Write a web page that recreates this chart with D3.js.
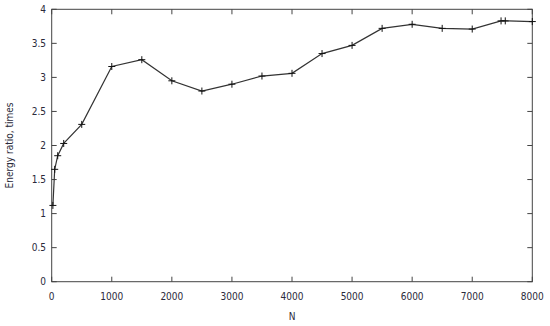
<!DOCTYPE html>
<html>
<head>
<meta charset="utf-8">
<script src="https://cdn.jsdelivr.net/npm/d3@7"></script>
<style>
html,body{margin:0;padding:0;background:#fff;}
svg{display:block;}
text{font-family:"DejaVu Sans Condensed","DejaVu Sans",sans-serif;font-size:10px;fill:#2a2a3a;}
</style>
</head>
<body>
<svg id="chart" width="550" height="326"></svg>
<script>
const nValues = [20, 50, 100, 200, 500, 1000, 1500, 2000, 2500, 3000, 3500, 4000, 4500, 5000, 5500, 6000, 6500, 7000, 7480, 7550, 8000];
const ratioValues = [1.12, 1.65, 1.85, 2.03, 2.31, 3.16, 3.26, 2.95, 2.80, 2.90, 3.02, 3.06, 3.35, 3.47, 3.72, 3.78, 3.72, 3.71, 3.83, 3.83, 3.82];
const xTicks = [0, 1000, 2000, 3000, 4000, 5000, 6000, 7000, 8000];
const yTicks = [0, 0.5, 1, 1.5, 2, 2.5, 3, 3.5, 4];
const xLabel = "N";
const yLabel = "Energy ratio, times";

const svg = d3.select("#chart");
const L = 51.7, R = 532.3, T = 9.3, B = 281.7;
const x = d3.scaleLinear().domain([0, 8000]).range([L, R]);
const y = d3.scaleLinear().domain([0, 4]).range([B, T]);
const data = nValues.map((n, i) => ({n, v: ratioValues[i]}));
const axisColor = "#444";

svg.append("rect").attr("x", L).attr("y", T).attr("width", R - L).attr("height", B - T)
  .attr("fill", "none").attr("stroke", axisColor).attr("stroke-width", 1);

const tl = 5;
const gx = svg.append("g");
xTicks.forEach(t => {
  gx.append("line").attr("x1", x(t)).attr("x2", x(t)).attr("y1", B).attr("y2", B - tl).attr("stroke", axisColor);
  gx.append("line").attr("x1", x(t)).attr("x2", x(t)).attr("y1", T).attr("y2", T + tl).attr("stroke", axisColor);
  gx.append("text").attr("x", x(t)).attr("y", 299.5).attr("text-anchor", "middle").text(d3.format("d")(t));
});
const gy = svg.append("g");
yTicks.forEach(t => {
  gy.append("line").attr("x1", L).attr("x2", L + tl).attr("y1", y(t)).attr("y2", y(t)).attr("stroke", axisColor);
  gy.append("line").attr("x1", R).attr("x2", R - tl).attr("y1", y(t)).attr("y2", y(t)).attr("stroke", axisColor);
  gy.append("text").attr("x", 46).attr("y", y(t) + 3.6).attr("text-anchor", "end").text(String(t));
});

svg.append("text").attr("x", (L + R) / 2).attr("y", 320).attr("text-anchor", "middle").text(xLabel);
svg.append("text").attr("transform", `translate(13,${(T + B) / 2}) rotate(-90)`)
  .attr("text-anchor", "middle").text(yLabel);

svg.append("path").datum(data)
  .attr("d", d3.line().x(d => x(d.n)).y(d => y(d.v)))
  .attr("fill", "none").attr("stroke", "#333").attr("stroke-width", 1.2);

const ms = 3.5;
const gm = svg.append("g").attr("stroke", "#111").attr("stroke-width", 1);
data.forEach(d => {
  gm.append("line").attr("x1", x(d.n) - ms).attr("x2", x(d.n) + ms).attr("y1", y(d.v)).attr("y2", y(d.v));
  gm.append("line").attr("x1", x(d.n)).attr("x2", x(d.n)).attr("y1", y(d.v) - ms).attr("y2", y(d.v) + ms);
});
</script>
</body>
</html>
